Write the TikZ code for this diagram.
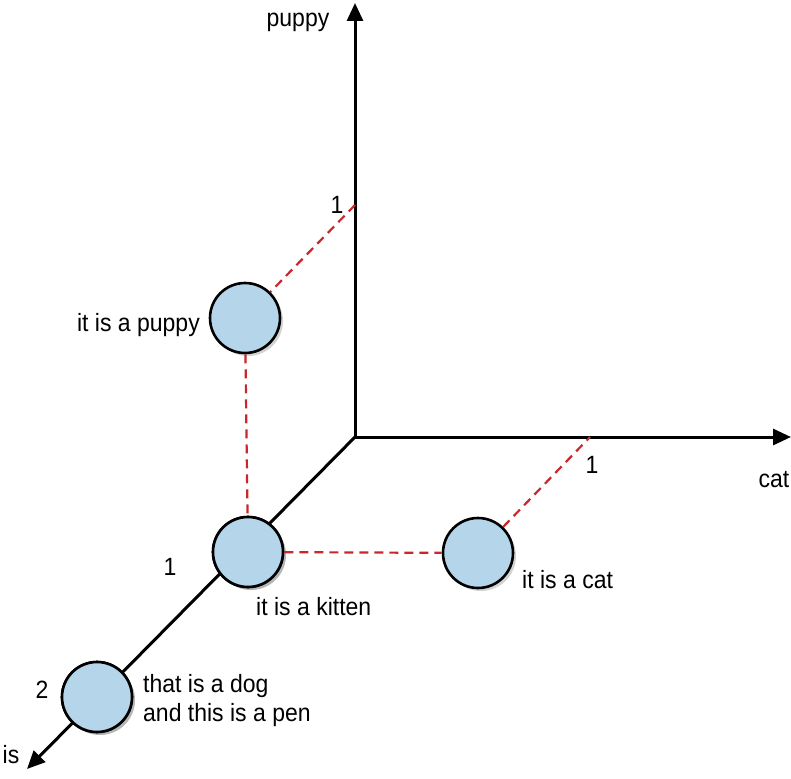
\documentclass[tikz,border=0pt]{standalone}
\usepackage{fontspec}
\setmainfont[FakeStretch=0.92]{Liberation Sans}
\usetikzlibrary{arrows.meta,shadows}
\definecolor{ballfill}{RGB}{181,213,235}
\definecolor{dashred}{RGB}{200,40,45}
\tikzset{
  axis/.style={line width=3pt,-{Triangle[length=18pt,width=16pt]}},
  ball/.style={circle,draw=black,line width=2.6pt,fill=ballfill,minimum size=70pt,inner sep=0pt,
    drop shadow={shadow xshift=3pt,shadow yshift=-3pt,opacity=0.35}},
  guide/.style={dashred,line width=2.2pt,dash pattern=on 9pt off 6pt},
  lbl/.style={font=\fontsize{25}{29}\selectfont,inner sep=0pt}
}
\begin{document}
\begin{tikzpicture}[x=1pt,y=-1pt]
\useasboundingbox (0,0) rectangle (791,778);
\coordinate (o) at (355,437);
\coordinate (py) at (355,3);
\coordinate (cx) at (791,437);
\coordinate (iz) at (27,769);
\coordinate (p1) at (355,205);
\coordinate (c1) at (590,437);
\node[ball] (kitten) at (248,552) {};
\node[ball] (dog) at (97,697) {};
\draw[axis] (o) -- (py);
\draw[axis] (o) -- (cx);
\draw[axis] (o) -- (iz);
\node[ball] (kitten) at (248,552) {};
\node[ball] (dog) at (97,697) {};
\node[ball] (puppy) at (245,318) {};
\node[ball] (cat) at (478,553) {};
\draw[guide] (p1) -- (puppy);
\draw[guide] (puppy) -- (kitten);
\draw[guide] (kitten) -- (cat);
\draw[guide] (cat) -- (c1);
\node[lbl] (tpy) at (298,22) {puppy};
\node[lbl] (tp1) at (337,205) {1};
\node[lbl,anchor=east] (tpup) at (200,325) {it is a puppy};
\node[lbl] (tcat) at (774,480) {cat};
\node[lbl] (tc1) at (592,465) {1};
\node[lbl] (tk1) at (170,567) {1};
\node[lbl,anchor=west] (tkit) at (256,607) {it is a kitten};
\node[lbl,anchor=west] (tcc) at (522,580) {it is a cat};
\node[lbl] (td2) at (42,690) {2};
\node[lbl,anchor=west,align=left] (tdog) at (143,701) {that is a dog\\and this is a pen};
\node[lbl] (tis) at (11,755) {is};
\end{tikzpicture}
\end{document}
